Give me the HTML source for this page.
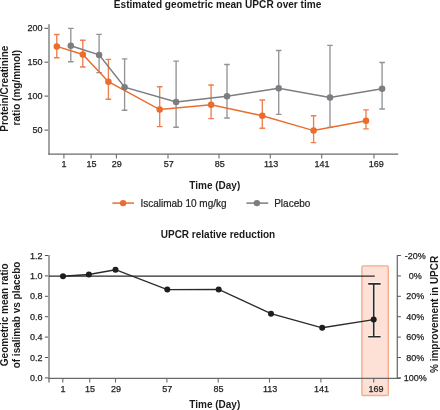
<!DOCTYPE html>
<html><head><meta charset="utf-8"><style>
html,body{margin:0;padding:0;background:#fff;width:440px;height:410px;overflow:hidden}
svg{display:block;will-change:transform}
text{font-family:"Liberation Sans",sans-serif}
.b{font-size:10px;font-weight:bold;fill:#1a1a1a}
.r{font-size:10px;fill:#222;stroke:#222;stroke-width:0.2px}
.t{font-size:9px;fill:#1e1e1e;stroke:#1e1e1e;stroke-width:0.25px}
</style></head><body>
<svg width="440" height="410" viewBox="0 0 440 410">
<text x="217.6" y="7.5" class="b" style="font-size:10.1px" text-anchor="middle">Estimated geometric mean UPCR over time</text>
<text class="b" text-anchor="middle" transform="translate(7.6,88.7) rotate(-90)">Protein/Creatinine</text>
<text class="b" text-anchor="middle" transform="translate(19.7,87.6) rotate(-90)">ratio (mg/mmol)</text>
<line x1="49" y1="24.3" x2="49" y2="154.3" stroke="#9A9A9A" stroke-width="1.8"/>
<line x1="48.1" y1="154.2" x2="398.2" y2="154.2" stroke="#6A6A6A" stroke-width="1.3"/>
<line x1="44.4" y1="28.3" x2="48.1" y2="28.3" stroke="#555" stroke-width="1"/>
<text x="42.5" y="31.400000000000002" class="t" text-anchor="end">200</text>
<line x1="44.4" y1="62.2" x2="48.1" y2="62.2" stroke="#555" stroke-width="1"/>
<text x="42.5" y="65.3" class="t" text-anchor="end">150</text>
<line x1="44.4" y1="96.1" x2="48.1" y2="96.1" stroke="#555" stroke-width="1"/>
<text x="42.5" y="99.19999999999999" class="t" text-anchor="end">100</text>
<line x1="44.4" y1="130.1" x2="48.1" y2="130.1" stroke="#555" stroke-width="1"/>
<text x="42.5" y="133.2" class="t" text-anchor="end">50</text>
<line x1="63.9" y1="154.3" x2="63.9" y2="158.4" stroke="#6a6a6a" stroke-width="1.1"/>
<text x="63.9" y="167.2" class="t" text-anchor="middle">1</text>
<line x1="91.1" y1="154.3" x2="91.1" y2="158.4" stroke="#6a6a6a" stroke-width="1.1"/>
<text x="91.5" y="167.2" class="t" text-anchor="middle">15</text>
<line x1="116.4" y1="154.3" x2="116.4" y2="158.4" stroke="#6a6a6a" stroke-width="1.1"/>
<text x="116.80000000000001" y="167.2" class="t" text-anchor="middle">29</text>
<line x1="168.0" y1="154.3" x2="168.0" y2="158.4" stroke="#6a6a6a" stroke-width="1.1"/>
<text x="168.8" y="167.2" class="t" text-anchor="middle">57</text>
<line x1="219.0" y1="154.3" x2="219.0" y2="158.4" stroke="#6a6a6a" stroke-width="1.1"/>
<text x="219.8" y="167.2" class="t" text-anchor="middle">85</text>
<line x1="270.3" y1="154.3" x2="270.3" y2="158.4" stroke="#6a6a6a" stroke-width="1.1"/>
<text x="271.1" y="167.2" class="t" text-anchor="middle">113</text>
<line x1="321.7" y1="154.3" x2="321.7" y2="158.4" stroke="#6a6a6a" stroke-width="1.1"/>
<text x="322.09999999999997" y="167.2" class="t" text-anchor="middle">141</text>
<line x1="374.0" y1="154.3" x2="374.0" y2="158.4" stroke="#6a6a6a" stroke-width="1.1"/>
<text x="376.2" y="167.2" class="t" text-anchor="middle">169</text>
<text x="214.8" y="188.7" class="b" text-anchor="middle">Time (Day)</text>
<path d="M70.8,28.4 V61.7 M68.0,28.4 H73.6 M68.0,61.7 H73.6" stroke="#929497" stroke-width="1.35" fill="none"/>
<path d="M99.1,34.4 V72.6 M96.3,34.4 H101.89999999999999 M96.3,72.6 H101.89999999999999" stroke="#929497" stroke-width="1.35" fill="none"/>
<path d="M124.6,58.8 V110.2 M121.8,58.8 H127.39999999999999 M121.8,110.2 H127.39999999999999" stroke="#929497" stroke-width="1.35" fill="none"/>
<path d="M176.1,61.1 V127.2 M173.29999999999998,61.1 H178.9 M173.29999999999998,127.2 H178.9" stroke="#929497" stroke-width="1.35" fill="none"/>
<path d="M227.0,64.5 V118.0 M224.2,64.5 H229.8 M224.2,118.0 H229.8" stroke="#929497" stroke-width="1.35" fill="none"/>
<path d="M278.7,50.5 V114.4 M275.9,50.5 H281.5 M275.9,114.4 H281.5" stroke="#929497" stroke-width="1.35" fill="none"/>
<path d="M330.0,45.4 V127.3 M327.2,45.4 H332.8 M327.2,127.3 H332.8" stroke="#929497" stroke-width="1.35" fill="none"/>
<path d="M382.1,62.5 V109.0 M379.3,62.5 H384.90000000000003 M379.3,109.0 H384.90000000000003" stroke="#929497" stroke-width="1.35" fill="none"/>
<path d="M56.8,34.5 V57.7 M54.0,34.5 H59.599999999999994 M54.0,57.7 H59.599999999999994" stroke="#EE7F4E" stroke-width="1.35" fill="none"/>
<path d="M82.8,40.2 V67.0 M80.0,40.2 H85.6 M80.0,67.0 H85.6" stroke="#EE7F4E" stroke-width="1.35" fill="none"/>
<path d="M108.4,59.4 V99.2 M105.60000000000001,59.4 H111.2 M105.60000000000001,99.2 H111.2" stroke="#EE7F4E" stroke-width="1.35" fill="none"/>
<path d="M159.7,86.7 V126.6 M156.89999999999998,86.7 H162.5 M156.89999999999998,126.6 H162.5" stroke="#EE7F4E" stroke-width="1.35" fill="none"/>
<path d="M211.1,85.0 V118.6 M208.29999999999998,85.0 H213.9 M208.29999999999998,118.6 H213.9" stroke="#EE7F4E" stroke-width="1.35" fill="none"/>
<path d="M262.3,100.0 V128.2 M259.5,100.0 H265.1 M259.5,128.2 H265.1" stroke="#EE7F4E" stroke-width="1.35" fill="none"/>
<path d="M313.6,115.7 V142.6 M310.8,115.7 H316.40000000000003 M310.8,142.6 H316.40000000000003" stroke="#EE7F4E" stroke-width="1.35" fill="none"/>
<path d="M366.0,109.9 V128.9 M363.2,109.9 H368.8 M363.2,128.9 H368.8" stroke="#EE7F4E" stroke-width="1.35" fill="none"/>
<polyline fill="none" stroke="#7B7D80" stroke-width="1.5" points="70.8,45.8 99.1,54.9 124.6,87.2 176.1,102.0 227.0,96.3 278.7,88.2 330.0,97.4 382.1,88.8"/>
<polyline fill="none" stroke="#EB6D2E" stroke-width="1.5" points="56.8,46.4 82.8,54.5 108.4,81.7 159.7,109.6 211.1,104.8 262.3,115.7 313.6,130.6 366.0,120.7"/>
<circle cx="70.8" cy="45.8" r="3.25" fill="#7B7D80"/>
<circle cx="99.1" cy="54.9" r="3.25" fill="#7B7D80"/>
<circle cx="124.6" cy="87.2" r="3.25" fill="#7B7D80"/>
<circle cx="176.1" cy="102.0" r="3.25" fill="#7B7D80"/>
<circle cx="227.0" cy="96.3" r="3.25" fill="#7B7D80"/>
<circle cx="278.7" cy="88.2" r="3.25" fill="#7B7D80"/>
<circle cx="330.0" cy="97.4" r="3.25" fill="#7B7D80"/>
<circle cx="382.1" cy="88.8" r="3.25" fill="#7B7D80"/>
<circle cx="56.8" cy="46.4" r="3.25" fill="#EB6D2E"/>
<circle cx="82.8" cy="54.5" r="3.25" fill="#EB6D2E"/>
<circle cx="108.4" cy="81.7" r="3.25" fill="#EB6D2E"/>
<circle cx="159.7" cy="109.6" r="3.25" fill="#EB6D2E"/>
<circle cx="211.1" cy="104.8" r="3.25" fill="#EB6D2E"/>
<circle cx="262.3" cy="115.7" r="3.25" fill="#EB6D2E"/>
<circle cx="313.6" cy="130.6" r="3.25" fill="#EB6D2E"/>
<circle cx="366.0" cy="120.7" r="3.25" fill="#EB6D2E"/>
<line x1="112.4" y1="203.1" x2="134" y2="203.1" stroke="#EB6D2E" stroke-width="1.5"/>
<circle cx="123.1" cy="203.1" r="3.2" fill="#EB6D2E"/>
<text x="140.4" y="206.5" class="r">Iscalimab 10 mg/kg</text>
<line x1="246.4" y1="203.1" x2="268.2" y2="203.1" stroke="#7B7D80" stroke-width="1.5"/>
<circle cx="256.9" cy="203.1" r="3.2" fill="#7B7D80"/>
<text x="274.2" y="206.5" class="r">Placebo</text>
<text x="218" y="237.8" class="b" text-anchor="middle">UPCR relative reduction</text>
<text class="b" text-anchor="middle" transform="translate(7.6,314.8) rotate(-90)">Geometric mean ratio</text>
<text class="b" text-anchor="middle" transform="translate(19.7,315.0) rotate(-90)">of isalimab vs placebo</text>
<text class="b" text-anchor="middle" transform="translate(438.3,314.4) rotate(-90)">% improvement in UPCR</text>
<rect x="361.9" y="265.9" width="26.4" height="129.6" rx="1" fill="#FDE1D6" stroke="#F4AC8A" stroke-width="1.4"/>
<line x1="49" y1="254.9" x2="49" y2="382.5" stroke="#9A9A9A" stroke-width="1.8"/>
<line x1="48.1" y1="378.3" x2="400.5" y2="378.3" stroke="#6A6A6A" stroke-width="1.3"/>
<line x1="397.3" y1="255.2" x2="397.3" y2="378.3" stroke="#6E6E6E" stroke-width="1.3"/>
<line x1="44.9" y1="255.50" x2="48.1" y2="255.50" stroke="#555" stroke-width="1"/>
<text x="42.6" y="258.60" class="t" text-anchor="end">1.2</text>
<line x1="397.3" y1="255.50" x2="400.9" y2="255.50" stroke="#555" stroke-width="1"/>
<text x="415.3" y="258.60" class="t" text-anchor="middle">-20%</text>
<line x1="44.9" y1="275.90" x2="48.1" y2="275.90" stroke="#555" stroke-width="1"/>
<text x="42.6" y="279.00" class="t" text-anchor="end">1.0</text>
<line x1="397.3" y1="275.90" x2="400.9" y2="275.90" stroke="#555" stroke-width="1"/>
<text x="415.3" y="279.00" class="t" text-anchor="middle">0%</text>
<line x1="44.9" y1="296.30" x2="48.1" y2="296.30" stroke="#555" stroke-width="1"/>
<text x="42.6" y="299.40" class="t" text-anchor="end">0.8</text>
<line x1="397.3" y1="296.30" x2="400.9" y2="296.30" stroke="#555" stroke-width="1"/>
<text x="415.3" y="299.40" class="t" text-anchor="middle">20%</text>
<line x1="44.9" y1="316.70" x2="48.1" y2="316.70" stroke="#555" stroke-width="1"/>
<text x="42.6" y="319.80" class="t" text-anchor="end">0.6</text>
<line x1="397.3" y1="316.70" x2="400.9" y2="316.70" stroke="#555" stroke-width="1"/>
<text x="415.3" y="319.80" class="t" text-anchor="middle">40%</text>
<line x1="44.9" y1="337.10" x2="48.1" y2="337.10" stroke="#555" stroke-width="1"/>
<text x="42.6" y="340.20" class="t" text-anchor="end">0.4</text>
<line x1="397.3" y1="337.10" x2="400.9" y2="337.10" stroke="#555" stroke-width="1"/>
<text x="415.3" y="340.20" class="t" text-anchor="middle">60%</text>
<line x1="44.9" y1="357.50" x2="48.1" y2="357.50" stroke="#555" stroke-width="1"/>
<text x="42.6" y="360.60" class="t" text-anchor="end">0.2</text>
<line x1="397.3" y1="357.50" x2="400.9" y2="357.50" stroke="#555" stroke-width="1"/>
<text x="415.3" y="360.60" class="t" text-anchor="middle">80%</text>
<line x1="44.9" y1="377.90" x2="48.1" y2="377.90" stroke="#555" stroke-width="1"/>
<text x="42.6" y="381.00" class="t" text-anchor="end">0.0</text>
<line x1="397.3" y1="377.90" x2="400.9" y2="377.90" stroke="#555" stroke-width="1"/>
<text x="415.3" y="381.00" class="t" text-anchor="middle">100%</text>
<line x1="62.8" y1="378.3" x2="62.8" y2="382.6" stroke="#6a6a6a" stroke-width="1.1"/>
<text x="63.099999999999994" y="391.5" class="t" text-anchor="middle">1</text>
<line x1="89.7" y1="378.3" x2="89.7" y2="382.6" stroke="#6a6a6a" stroke-width="1.1"/>
<text x="90.10000000000001" y="391.5" class="t" text-anchor="middle">15</text>
<line x1="115.5" y1="378.3" x2="115.5" y2="382.6" stroke="#6a6a6a" stroke-width="1.1"/>
<text x="115.9" y="391.5" class="t" text-anchor="middle">29</text>
<line x1="166.9" y1="378.3" x2="166.9" y2="382.6" stroke="#6a6a6a" stroke-width="1.1"/>
<text x="167.3" y="391.5" class="t" text-anchor="middle">57</text>
<line x1="218.2" y1="378.3" x2="218.2" y2="382.6" stroke="#6a6a6a" stroke-width="1.1"/>
<text x="218.6" y="391.5" class="t" text-anchor="middle">85</text>
<line x1="269.5" y1="378.3" x2="269.5" y2="382.6" stroke="#6a6a6a" stroke-width="1.1"/>
<text x="270.1" y="391.5" class="t" text-anchor="middle">113</text>
<line x1="320.9" y1="378.3" x2="320.9" y2="382.6" stroke="#6a6a6a" stroke-width="1.1"/>
<text x="321.5" y="391.5" class="t" text-anchor="middle">141</text>
<line x1="373.7" y1="378.3" x2="373.7" y2="382.6" stroke="#6a6a6a" stroke-width="1.1"/>
<text x="375.9" y="391.5" class="t" text-anchor="middle">169</text>
<text x="214.8" y="408.1" class="b" text-anchor="middle">Time (Day)</text>
<line x1="49" y1="276.2" x2="374.7" y2="276.2" stroke="#2A2A2A" stroke-width="1.3"/>
<path d="M373.7,283.9 V336.7 M368.2,283.9 H380.6 M368.2,336.7 H380.6" stroke="#FFF5F0" stroke-width="3.2" fill="none"/>
<path d="M373.7,283.9 V336.7 M368.2,283.9 H380.6 M368.2,336.7 H380.6" stroke="#2A2A2A" stroke-width="1.6" fill="none"/>
<polyline fill="none" stroke="#2A2A2A" stroke-width="1.4" points="63.0,276.2 88.9,274.5 115.5,269.7 167.3,289.6 218.7,289.4 271.0,313.7 322.2,327.8 373.7,319.6"/>
<circle cx="63.0" cy="276.2" r="3" fill="#1E1E1E"/>
<circle cx="88.9" cy="274.5" r="3" fill="#1E1E1E"/>
<circle cx="115.5" cy="269.7" r="3" fill="#1E1E1E"/>
<circle cx="167.3" cy="289.6" r="3" fill="#1E1E1E"/>
<circle cx="218.7" cy="289.4" r="3" fill="#1E1E1E"/>
<circle cx="271.0" cy="313.7" r="3" fill="#1E1E1E"/>
<circle cx="322.2" cy="327.8" r="3" fill="#1E1E1E"/>
<circle cx="373.7" cy="319.6" r="3" fill="#1E1E1E"/>
</svg>
</body></html>
